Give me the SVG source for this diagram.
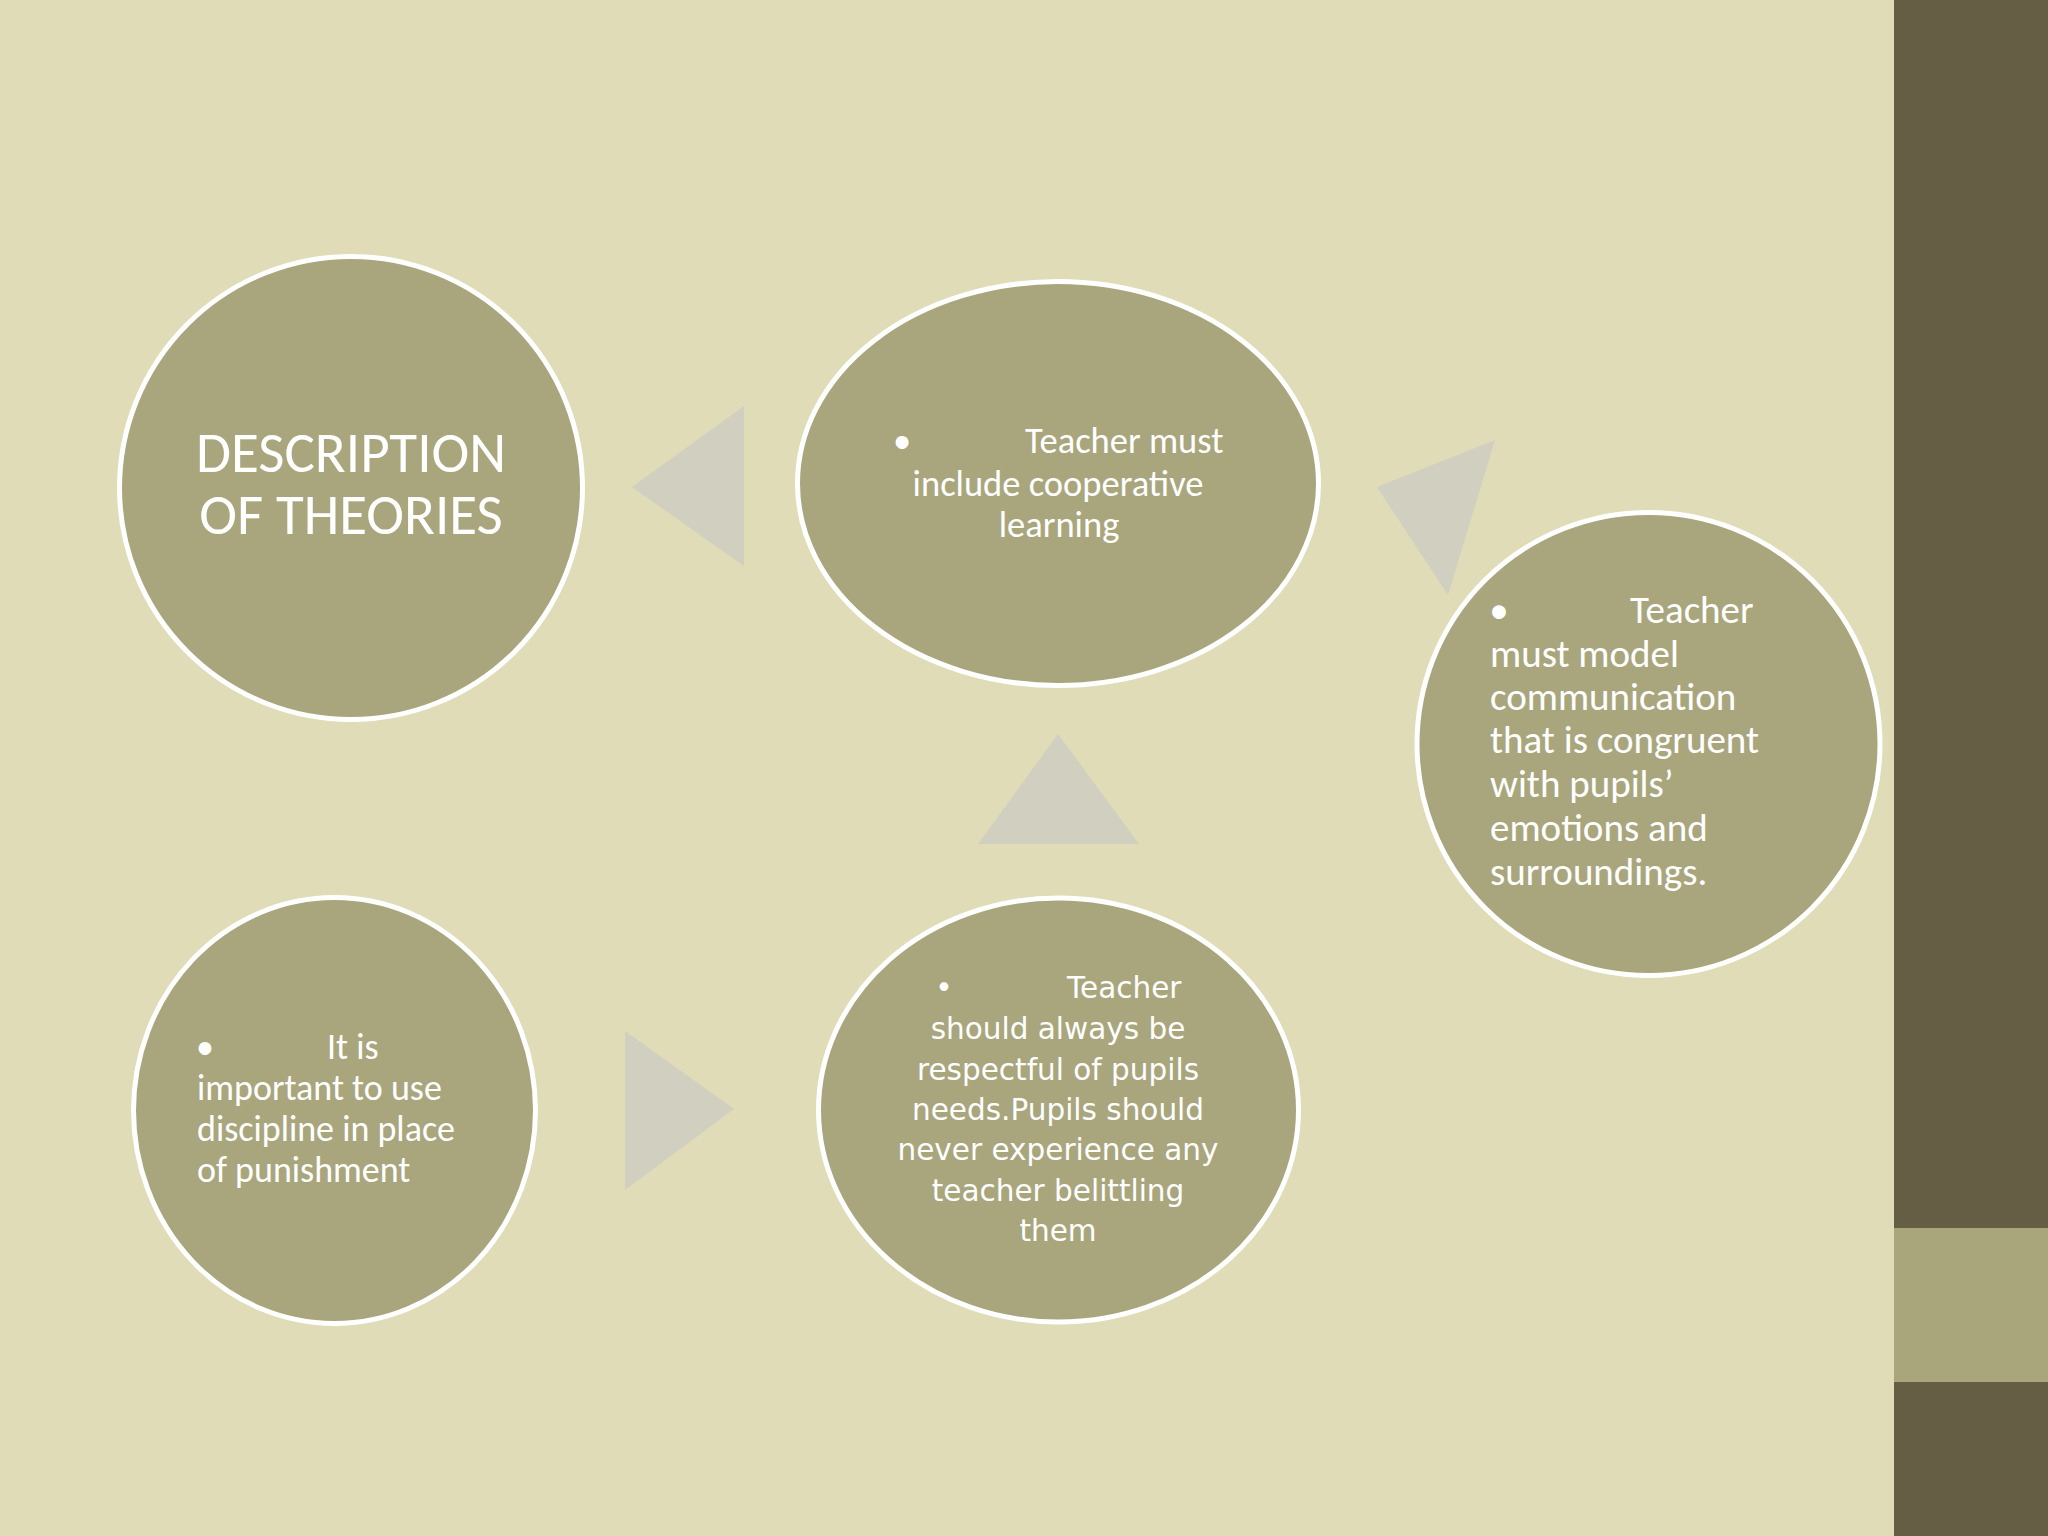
<svg xmlns="http://www.w3.org/2000/svg" width="2048" height="1536" viewBox="0 0 2048 1536">
  <style>
    .node { fill: #A9A67D; stroke: #FFFFFF; stroke-width: 5; }
    .arrow { fill: #D1CFC0; }
    .t { fill: #FFFFFF; font-family: Carlito, Calibri, "Liberation Sans", sans-serif; }
    .v { fill: #FFFFFF; font-family: "DejaVu Sans", Verdana, sans-serif; }
  </style>
  <rect x="0" y="0" width="2048" height="1536" fill="#DFDCB7"/>
  <g id="sidebar">
    <rect x="1894" y="0" width="154" height="1536" fill="#655E45"/>
    <rect x="1894" y="1228" width="154" height="154" fill="#A9A67B"/>
  </g>
  <g id="connectors">
    <polygon class="arrow" points="632,487 744,406 744,566"/>
    <polygon class="arrow" points="1377,487 1495,440 1448,595"/>
    <polygon class="arrow" points="1058,734 978,844 1139,844"/>
    <polygon class="arrow" points="625,1031 625,1190 734,1109"/>
  </g>
  <g id="node-description">
    <circle class="node" cx="351" cy="488" r="231.5"/>
    <text class="t" font-size="57" text-anchor="middle" x="351" y="472">DESCRIPTION</text>
    <text class="t" font-size="57" text-anchor="middle" x="351" y="534">OF THEORIES</text>
  </g>
  <g id="node-cooperative">
    <ellipse class="node" cx="1058" cy="483.5" rx="260.5" ry="202"/>
    <text class="t" font-size="36.5" text-anchor="middle" x="902" y="453">•</text>
    <text class="t" font-size="36.5" x="1025" y="453">Teacher must</text>
    <text class="t" font-size="36.5" text-anchor="middle" x="1058" y="496">include cooperative</text>
    <text class="t" font-size="36.5" text-anchor="middle" x="1059" y="537">learning</text>
  </g>
  <g id="node-communication">
    <circle class="node" cx="1648.5" cy="744" r="231.5"/>
    <text class="t" font-size="39" text-anchor="middle" x="1499" y="623">•</text>
    <text class="t" font-size="39" x="1630" y="623">Teacher</text>
    <text class="t" font-size="39" x="1490" y="667">must model</text>
    <text class="t" font-size="39" x="1490" y="710">communication</text>
    <text class="t" font-size="39" x="1490" y="753">that is congruent</text>
    <text class="t" font-size="39" x="1490" y="797">with pupils’</text>
    <text class="t" font-size="39" x="1490" y="841">emotions and</text>
    <text class="t" font-size="39" x="1490" y="885">surroundings.</text>
  </g>
  <g id="node-respectful">
    <ellipse class="node" cx="1058.5" cy="1110" rx="240" ry="212"/>
    <text class="v" font-size="29.5" text-anchor="middle" x="944" y="998">•</text>
    <text class="v" font-size="29.5" x="1067" y="998">Teacher</text>
    <text class="v" font-size="29.5" text-anchor="middle" x="1058" y="1039">should always be</text>
    <text class="v" font-size="29.5" text-anchor="middle" x="1058" y="1080">respectful of pupils</text>
    <text class="v" font-size="29.5" text-anchor="middle" x="1058" y="1120">needs.Pupils should</text>
    <text class="v" font-size="29.5" text-anchor="middle" x="1058" y="1160">never experience any</text>
    <text class="v" font-size="29.5" text-anchor="middle" x="1058" y="1201">teacher belittling</text>
    <text class="v" font-size="29.5" text-anchor="middle" x="1058" y="1241">them</text>
  </g>
  <g id="node-discipline">
    <ellipse class="node" cx="334.5" cy="1110.5" rx="201" ry="213"/>
    <text class="t" font-size="36" text-anchor="middle" x="205" y="1059">•</text>
    <text class="t" font-size="36" x="327" y="1059">It is</text>
    <text class="t" font-size="36" x="197" y="1100">important to use</text>
    <text class="t" font-size="36" x="197" y="1141">discipline in place</text>
    <text class="t" font-size="36" x="197" y="1182">of punishment</text>
  </g>
</svg>
